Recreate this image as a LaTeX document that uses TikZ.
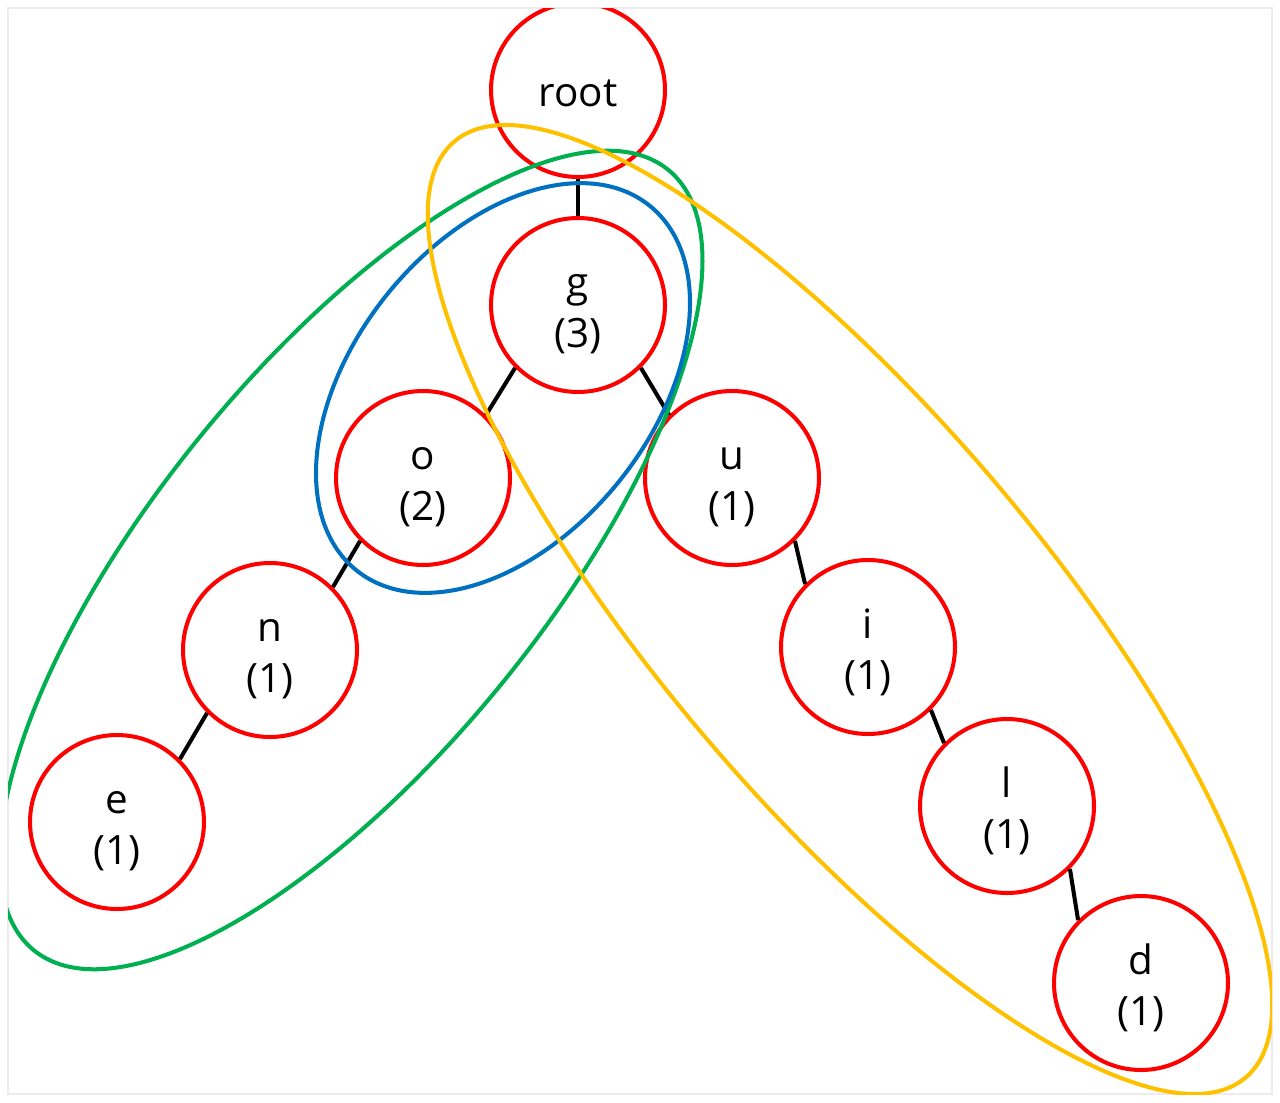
\documentclass[tikz,border=0pt]{standalone}
\usepackage{fontspec}
\setmainfont{Open Sans}
\usepackage{xcolor}
\definecolor{NodeRed}{HTML}{FF0000}
\definecolor{GroupGreen}{HTML}{00B050}
\definecolor{GroupBlue}{HTML}{0070C0}
\definecolor{GroupYellow}{HTML}{FFC000}
\usetikzlibrary{positioning}
\newcommand{\upstrut}{\rule{0pt}{25.3pt}}
\newcommand{\downstrut}{\rule[-6pt]{0pt}{6pt}}

\begin{document}
\begin{tikzpicture}[x=0.02cm, y=-0.02cm,
        trienode/.style={circle, draw=NodeRed, line width=2.3pt, minimum size=3.48cm,
            inner sep=0pt, align=center, font=\fontsize{23}{29.5}\selectfont},
        link/.style={line width=2.3pt, black},
        hull/.style={line width=2.3pt}]
        \useasboundingbox (0,0) rectangle (1280,1102);
        \draw[gray!15, line width=1.2pt] (8,8) rectangle (1272,1094);
        \clip (8,8) rectangle (1272,1094);
        % trie nodes
        \node[trienode] (root) at (578,90) {\upstrut root\downstrut};
        \node[trienode] (g) at (578,305) {\upstrut g\\(3)\downstrut};
        \node[trienode] (o) at (423,478) {\upstrut o\\(2)\downstrut};
        \node[trienode] (n) at (270,650) {\upstrut n\\(1)\downstrut};
        \node[trienode] (e) at (117,822) {\upstrut e\\(1)\downstrut};
        \node[trienode] (u) at (732,478) {\upstrut u\\(1)\downstrut};
        \node[trienode] (i) at (868,647) {\upstrut i\\(1)\downstrut};
        \node[trienode] (l) at (1007,806) {\upstrut l\\(1)\downstrut};
        \node[trienode] (d) at (1141,983) {\upstrut d\\(1)\downstrut};
        % links
        \draw[link] (root.south) -- (g.north);
        \draw[link] (g.south west) -- (o.north east);
        \draw[link] (o.south west) -- (n.north east);
        \draw[link] (n.south west) -- (e.north east);
        \draw[link] (g.south east) -- (u.north west);
        \draw[link] (u.south east) -- (i.north west);
        \draw[link] (i.south east) -- (l.north west);
        \draw[link] (l.south east) -- (d.north west);
        % groups
        \draw[hull, GroupGreen, rotate around={50.9:(351,560)}] (351,560) ellipse [x radius=10.06cm, y radius=3.9cm];
        \draw[hull, GroupBlue, rotate around={51.2:(503,388)}] (503,388) ellipse [x radius=4.68cm, y radius=2.98cm];
        \draw[hull, GroupYellow, rotate around={-49.8:(850,609.5)}] (850,609.5) ellipse [x radius=12.26cm, y radius=3.86cm];
    \end{tikzpicture}
\end{document}
